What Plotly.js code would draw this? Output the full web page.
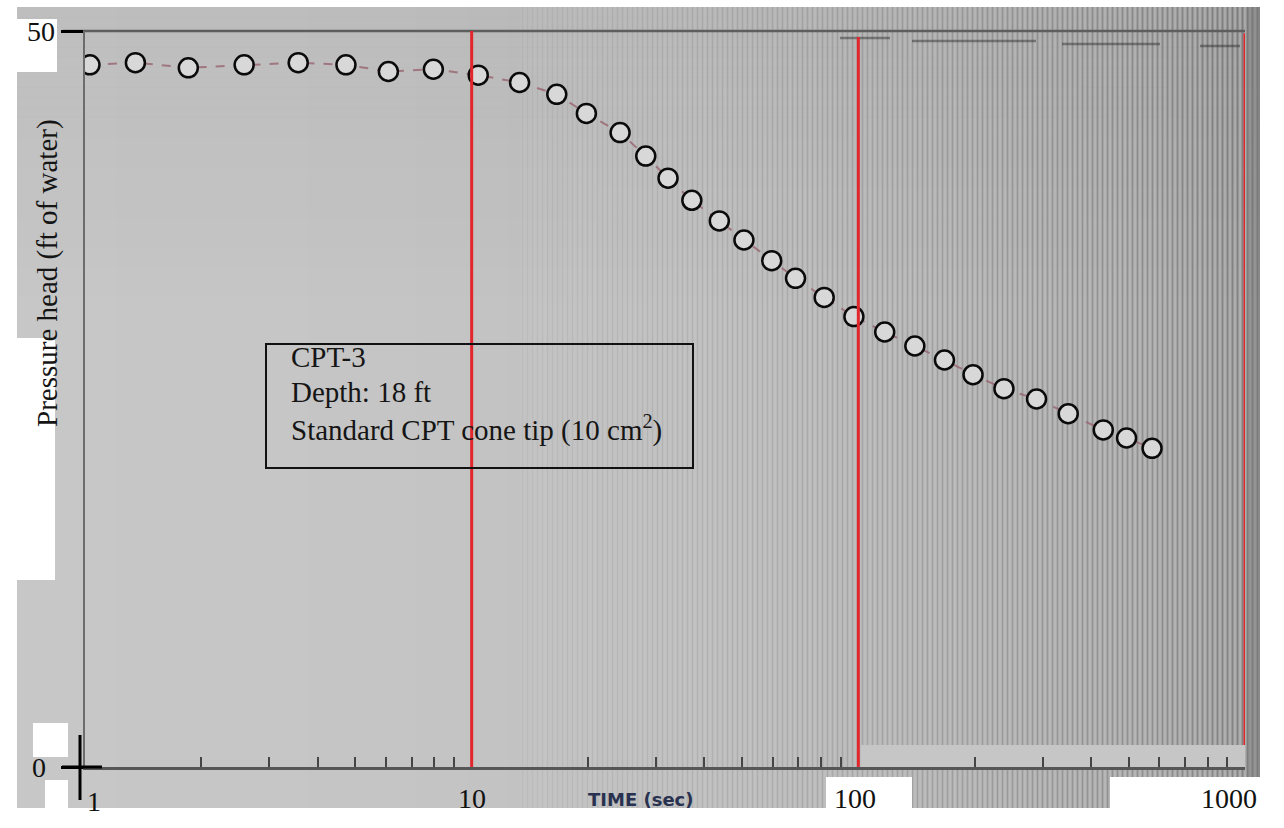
<!DOCTYPE html>
<html><head><meta charset="utf-8">
<script src="https://cdn.plot.ly/plotly-3.0.1.min.js"></script>
<style>html,body{margin:0;padding:0;background:#fff;}#chart{width:1284px;height:828px;}</style>
</head><body><div id="chart"></div>
<script>
// ---- data ----
const timeSec = [1.03, 1.35, 1.85, 2.58, 3.56, 4.73, 6.09, 7.96, 10.4, 13.3, 16.6, 19.8, 24.2, 28.2, 32.2, 37.1,
                 43.7, 50.6, 59.7, 68.8, 81.6, 97.4, 117, 140, 167, 198, 238, 289, 349, 430, 494, 575];
const pressureHead = [47.7, 47.85, 47.5, 47.7, 47.85, 47.7, 47.25, 47.4, 47.0, 46.5, 45.7, 44.4, 43.1, 41.5, 40.0, 38.5,
                      37.1, 35.8, 34.4, 33.2, 31.9, 30.6, 29.55, 28.6, 27.65, 26.65, 25.7, 25.0, 24.0, 22.9, 22.35, 21.65];
const xTickVals = [1, 10, 100, 1000];
const xTickText = ['1', '10', '100', '1000'];
const yTickVals = [0, 50];
const yTickText = ['0', '50'];
const refLinesX = [10, 100, 1000];
const noteLines = ['CPT-3', 'Depth: 18 ft', 'Standard CPT cone tip (10 cm<sup>2</sup>)'];
const xTitle = 'TIME (sec)';
const yTitle = 'Pressure head (ft of water)';

// ---- layout helpers (pixel -> paper) ----
const L = 85, R = 1245, T = 31, B = 767;
const px = p => (p - L) / (R - L);
const py = p => (B - p) / (B - T);
const shapes = [];
function rect(x0, y0, x1, y1, color, layer) {
  shapes.push({type: 'rect', xref: 'paper', yref: 'paper', x0: px(x0), x1: px(x1), y0: py(y1), y1: py(y0),
               fillcolor: color, line: {width: 0}, layer: layer || 'below'});
}
function seg(x0, y0, x1, y1, color, w, layer) {
  shapes.push({type: 'line', xref: 'paper', yref: 'paper', x0: px(x0), x1: px(x1), y0: py(y0), y1: py(y1),
               line: {color: color, width: w}, layer: layer || 'below'});
}
// photo-like gray background with a left-to-right darkening
const stops = [[17, 199], [400, 197], [700, 190], [950, 178], [1150, 166], [1262, 150]];
function shade(p) {
  for (let i = 0; i < stops.length - 1; i++) {
    const [a, va] = stops[i], [b, vb] = stops[i + 1];
    if (p <= b) return Math.round(va + (vb - va) * (p - a) / (b - a));
  }
  return stops[stops.length - 1][1];
}
for (let p = 17; p < 1260; p += 10) {
  const v = shade(p + 5);
  rect(p, 7, Math.min(p + 10.5, 1260), 808, `rgb(${v},${v},${v})`);
}
for (let yb = 7; yb < 300; yb += 10) {
  const a = 0.045 * (1 - (yb - 7) / 293);
  rect(17, yb, 1260, yb + 10.2, `rgba(0,0,0,${a.toFixed(3)})`);
}
// screen stripes on the right half
for (let p = 520; p < 1258; p += 5) {
  const f = (p - 520) / 740;
  seg(p, 7, p, 808, `rgba(235,235,235,${(0.08 + 0.35 * f).toFixed(3)})`, 1.2);
  seg(p + 2.5, 7, p + 2.5, 808, `rgba(70,70,70,${(0.05 + 0.22 * f).toFixed(3)})`, 1);
}
rect(1247, 7, 1260, 808, 'rgba(120,120,120,0.45)');
// light patch near the lower-right axis
rect(861, 745, 1245, 768, '#c6c6c6');
// white label patches
rect(17, 19, 57, 72, '#ffffff');
rect(0, 338, 55, 580, '#ffffff');
rect(33, 723, 68, 757, '#ffffff');
rect(45, 780, 68, 808, '#ffffff');
rect(826, 777, 912, 808, '#ffffff');
rect(1110, 777, 1262, 808, '#ffffff');
// top frame line and streaks
seg(63, 31, 1245, 31, '#5e5e5e', 2.5);
seg(840, 38, 890, 38, 'rgba(40,40,40,0.45)', 2.5);
seg(912, 41, 1036, 41, 'rgba(40,40,40,0.45)', 2.5);
seg(1062, 44, 1160, 44, 'rgba(40,40,40,0.45)', 2.5);
seg(1200, 46, 1240, 46, 'rgba(40,40,40,0.45)', 2.5);
// cross at the origin
seg(62, 767, 102, 767, '#000', 3, 'above');
seg(80, 735, 80, 800, '#000', 3, 'above');
// note box
shapes.push({type: 'rect', xref: 'paper', yref: 'paper', x0: px(266), x1: px(693), y0: py(468), y1: py(344),
             line: {color: '#111', width: 2}, fillcolor: 'rgba(0,0,0,0)', layer: 'above'});

// ---- minor ticks on the log axis ----
const minorVals = [];
[1, 10, 100].forEach(d => { for (let k = 2; k <= 9; k++) minorVals.push(k * d); });

// ---- annotations ----
const serif = 'Liberation Serif, Times New Roman, serif';
const annotations = [];
const xShift = [9, 0, -3, -16];
xTickVals.forEach((v, i) => annotations.push({
  xref: 'x', yref: 'paper', x: Math.log10(v), y: 0, yshift: i === 0 ? -17 : -14, xshift: xShift[i],
  xanchor: 'center', yanchor: 'top',
  text: xTickText[i], showarrow: false, font: {family: serif, size: 28, color: '#111'}
}));
const yLabRight = [48, 57];
yTickVals.forEach((v, i) => annotations.push({
  xref: 'paper', yref: 'y', x: px(yLabRight[i]), y: v, yshift: 0, xanchor: 'right', yanchor: 'middle',
  text: yTickText[i], showarrow: false, font: {family: serif, size: 28, color: '#111'}
}));
annotations.push({xref: 'paper', yref: 'paper', x: px(47), y: py(273), xanchor: 'center', yanchor: 'middle',
  textangle: -90, showarrow: false,
  text: yTitle, font: {family: serif, size: 29, color: '#151515'}});
annotations.push({xref: 'paper', yref: 'paper', x: px(641), y: py(800), xanchor: 'center', yanchor: 'middle',
  showarrow: false,
  text: '<b>' + xTitle + '</b>', font: {family: 'DejaVu Sans, Arial, sans-serif', size: 18, color: '#283250'}});
const noteY = [357, 392, 428];
noteLines.forEach((t, i) => annotations.push({
  xref: 'paper', yref: 'paper', x: px(289), y: py(noteY[i]), xanchor: 'left', yanchor: 'middle', showarrow: false,
  text: t, font: {family: serif, size: 29, color: '#151515'}
}));

// ---- traces ----
const traces = [{
  type: 'scatter', mode: 'lines+markers', x: timeSec, y: pressureHead, showlegend: false,
  line: {color: 'rgba(150,95,105,0.75)', width: 2, dash: 'dash'},
  marker: {symbol: 'circle', size: 19, color: '#d8d8d8', line: {color: '#0a0a0a', width: 2.5}}
}];
const refTop = [50, 49.6, 49.85];
const refBottom = [0, 0, 1.5];
refLinesX.forEach((v, i) => traces.push({
  type: 'scatter', mode: 'lines', x: [v, v], y: [refBottom[i], refTop[i]], showlegend: false, hoverinfo: 'skip',
  line: {color: '#e3262b', width: 3}, cliponaxis: false
}));

const layout = {
  width: 1284, height: 828,
  margin: {l: L, r: 1284 - R, t: T, b: 828 - B},
  paper_bgcolor: '#ffffff', plot_bgcolor: 'rgba(0,0,0,0)',
  showlegend: false,
  xaxis: {type: 'log', range: [0, 3], showgrid: false, zeroline: false,
          showline: true, linecolor: '#565656', linewidth: 3,
          tickmode: 'array', tickvals: minorVals, ticks: 'inside', ticklen: 10, tickwidth: 2, tickcolor: '#454545',
          showticklabels: false},
  yaxis: {range: [0, 50], showgrid: false, zeroline: false,
          showline: true, linecolor: '#6c6c6c', linewidth: 2,
          tickmode: 'array', tickvals: yTickVals, ticks: 'outside', ticklen: 22, tickwidth: 3, tickcolor: '#000',
          showticklabels: false},
  shapes: shapes,
  annotations: annotations
};
Plotly.newPlot('chart', traces, layout, {displayModeBar: false, staticPlot: true});
</script>
</body></html>
